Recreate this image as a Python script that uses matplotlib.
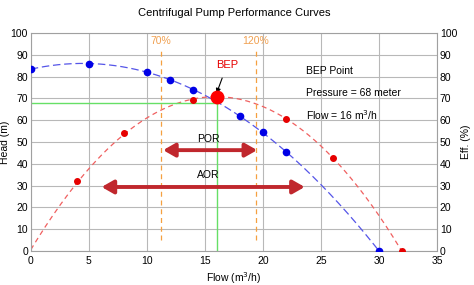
import numpy as np
import matplotlib.pyplot as plt

plt.rcParams['font.family'] = ['Liberation Sans', 'DejaVu Sans']

head_flow = [0, 5, 10, 12, 14, 18, 20, 22, 30]
head_m = [83.5, 86, 82, 78.5, 74, 62, 54.5, 45.5, 0]
eff_flow = [4, 8, 14, 22, 26, 32]
eff_pct = [32, 54, 69.5, 60.5, 42.5, 0]
bep_flow = 16
bep_eff = 70.8
bep_head = 68
por_limits = [11.2, 19.4]
por_labels = ['70%', '120%']
por_span = [11.4, 19.5]
aor_span = [6.1, 23.6]

fig = plt.figure(figsize=(4.74, 2.85), dpi=100)
ax = fig.add_axes([0.065, 0.119, 0.857, 0.765])
ax.set_xlim(0, 35)
ax.set_ylim(0, 100)
ax.set_xticks(np.arange(0, 36, 5))
ax.set_yticks(np.arange(0, 101, 10))
ax.grid(True, color='#b8b8b8', lw=0.8)
ax.set_axisbelow(True)
ax.tick_params(length=0, labelsize=7.5, pad=2)
ax.tick_params(axis='x', pad=3.5)
for s in ax.spines.values():
    s.set_color('#a0a0a0')

# fitted curves through the marked points
xs = np.linspace(0, 30, 200)
hp = np.polyfit(head_flow, head_m, 2)
ax.plot(xs, np.polyval(hp, xs), color='#5555e8', lw=0.9, ls=(0, (6, 3)))
xe = np.linspace(0, 32, 200)
ep = np.polyfit([0] + eff_flow + [bep_flow], [0] + eff_pct + [bep_eff], 2)
ax.plot(xe, np.polyval(ep, xe), color='#f06060', lw=0.9, ls=(0, (4, 3)))

# operating range lines
for x, lab in zip(por_limits, por_labels):
    ax.plot([x, x], [5, 93], color='#f5a040', lw=0.9, ls=(0, (4, 3)))
    ax.text(x, 96.5, lab, color='#f0a050', fontsize=7.5, ha='center', va='center')

ax.plot([0, bep_flow], [bep_head, bep_head], color='#66e066', lw=1)
ax.plot([bep_flow, bep_flow], [0, bep_head], color='#66e066', lw=1)

ax.plot(head_flow, head_m, 'o', color='#0000e6', ms=4.5, zorder=5)
ax.plot(eff_flow, eff_pct, 'o', color='#e60000', ms=4, zorder=5)
ax.plot(bep_flow, bep_eff, 'o', color='#ff0000', ms=9, zorder=6)

ax.annotate('BEP', xy=(bep_flow, bep_eff + 1.5), xytext=(16.9, 85.3),
            color='#e60000', fontsize=8, ha='center', va='center',
            arrowprops=dict(arrowstyle='-|>', color='black', lw=0.8,
                            shrinkA=4, shrinkB=0, mutation_scale=7))

ax.text(23.7, 82.6, 'BEP Point', fontsize=7.5, va='center')
ax.text(23.7, 72.5, 'Pressure = 68 meter', fontsize=7.5, va='center')
ax.text(23.7, 62.4, 'Flow = 16 m$^3$/h', fontsize=7.5, va='center')

arrow_kw = dict(arrowstyle='<|-|>,head_length=0.7,head_width=0.4', color='#c0272d',
                lw=2.8, shrinkA=0, shrinkB=0, mutation_scale=10)
ax.annotate('', xy=(por_span[1], 46.3), xytext=(por_span[0], 46.3), arrowprops=arrow_kw)
ax.annotate('', xy=(aor_span[1], 29.4), xytext=(aor_span[0], 29.4), arrowprops=arrow_kw)
ax.text(15.3, 51.6, 'POR', fontsize=7.5, ha='center', va='center')
ax.text(15.3, 35, 'AOR', fontsize=7.5, ha='center', va='center')

ax.set_xlabel('Flow (m$^3$/h)', fontsize=7.5, labelpad=3)
ax.set_ylabel('Head (m)', fontsize=7.5)
ax.yaxis.set_label_coords(-0.052, 0.5)
ax.set_title('Centrifugal Pump Performance Curves', fontsize=8, pad=12)

ax2 = ax.twinx()
ax2.set_ylim(0, 100)
ax2.set_yticks(np.arange(0, 101, 10))
ax2.tick_params(length=0, labelsize=7.5, pad=2)
ax2.set_ylabel('Eff. (%)', fontsize=7.5)
ax2.yaxis.set_label_coords(1.058, 0.5)
for s in ax2.spines.values():
    s.set_visible(False)

fig.savefig('out.png', dpi=100)
